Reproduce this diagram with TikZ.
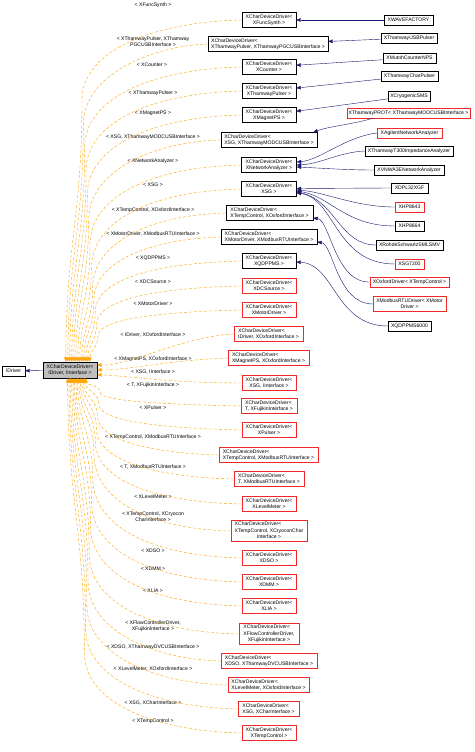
\documentclass[tikz,border=0pt]{standalone}
\usepackage{fontspec}
\setmainfont{Liberation Sans}
\usetikzlibrary{arrows.meta}
\definecolor{dorange}{RGB}{255,165,0}
\definecolor{dnavy}{RGB}{25,25,112}
\definecolor{dred}{RGB}{240,40,40}
\definecolor{dgray}{RGB}{191,191,191}
\newcommand\dxl[2]{\begin{tabular}{@{}c@{}}\multicolumn{1}{@{}l@{}}{#1}\\#2\end{tabular}}
\begin{document}
\begin{tikzpicture}[x=1pt,y=-1pt,
 box/.style={draw, line width=0.35pt, inner sep=1pt, font=\fontsize{5.1}{6.3}\selectfont, minimum height=15pt},
 bk/.style={box, draw=black},
 rd/.style={box, draw=dred},
 cb/.style={bk, minimum height=10pt},
 cr/.style={rd, minimum height=10pt},
 lbl/.style={inner sep=0pt, font=\fontsize{5.1}{6.3}\selectfont, align=center},
 inh/.style={draw=dnavy, line width=0.4pt, -{Triangle[length=4.5pt,width=3.5pt]}},
 tmp/.style={draw=dorange, line width=0.4pt, dash pattern=on 3pt off 2pt, -{Triangle[length=4.5pt,width=3.5pt]}},
]
\fill[white] (0,0) rectangle (474,752);
\useasboundingbox (0,0) rectangle (474,752);

% main and base
\node[bk, fill=dgray, minimum width=54pt, minimum height=16pt] (m) at (70,370) {\dxl{XCharDeviceDriver<}{IDriver, IInterface >}};
\node[bk, minimum width=23pt, minimum height=10pt] (idr) at (13.5,371) {IDriver};

% template instances
\node[bk, minimum width=54pt] (n1) at (269,20) {\dxl{XCharDeviceDriver<}{XFuncSynth >}};
\node[bk, minimum width=120pt] (n2) at (268,44) {\dxl{XCharDeviceDriver<}{XThamwayPulser, XThamwayPGCUSBInterface >}};
\node[bk, minimum width=54pt] (n3) at (269,67) {\dxl{XCharDeviceDriver<}{XCounter >}};
\node[bk, minimum width=54pt] (n4) at (269,91) {\dxl{XCharDeviceDriver<}{XThamwayPulser >}};
\node[bk, minimum width=54pt] (n5) at (269,115) {\dxl{XCharDeviceDriver<}{XMagnetPS >}};
\node[bk, minimum width=96pt] (n6) at (269,140) {\dxl{XCharDeviceDriver<}{XSG, XThamwayMODCUSBInterface >}};
\node[bk, minimum width=55pt] (n7) at (269,165) {\dxl{XCharDeviceDriver<}{XNetworkAnalyzer >}};
\node[bk, minimum width=55pt] (n8) at (269,189) {\dxl{XCharDeviceDriver<}{XSG >}};
\node[bk, minimum width=87pt] (n9) at (269.5,213) {\dxl{XCharDeviceDriver<}{XTempControl, XOxfordInterface >}};
\node[bk, minimum width=96pt] (n10) at (269,237) {\dxl{XCharDeviceDriver<}{XMotorDriver, XModbusRTUInterface >}};
\node[bk, minimum width=54pt] (n11) at (269,261) {\dxl{XCharDeviceDriver<}{XQDPPMS >}};
\node[rd, minimum width=54pt] (n12) at (269,286) {\dxl{XCharDeviceDriver<}{XDCSource >}};
\node[rd, minimum width=54pt] (n13) at (269,310) {\dxl{XCharDeviceDriver<}{XMotorDriver >}};
\node[rd, minimum width=69pt] (n14) at (268.5,334) {\dxl{XCharDeviceDriver<}{IDriver, XOxfordInterface >}};
\node[rd, minimum width=81pt] (n15) at (268.5,358) {\dxl{XCharDeviceDriver<}{XMagnetPS, XOxfordInterface >}};
\node[rd, minimum width=54pt] (n16) at (269,383) {\dxl{XCharDeviceDriver<}{XSG, IInterface >}};
\node[rd, minimum width=56pt] (n17) at (269,406) {\dxl{XCharDeviceDriver<}{T, XFujikinInterface >}};
\node[rd, minimum width=54pt] (n18) at (269,430) {\dxl{XCharDeviceDriver<}{XPulser >}};
\node[rd, minimum width=99pt] (n19) at (268.5,455) {\dxl{XCharDeviceDriver<}{XTempControl, XModbusRTUInterface >}};
\node[rd, minimum width=70pt] (n20) at (269,479) {\dxl{XCharDeviceDriver<}{T, XModbusRTUInterface >}};
\node[rd, minimum width=54pt] (n21) at (269,504) {\dxl{XCharDeviceDriver<}{XLevelMeter >}};
\node[rd, minimum width=76pt, minimum height=21pt] (n22) at (269,531) {\dxl{XCharDeviceDriver<}{XTempControl, XCryoconChar\\Interface >}};
\node[rd, minimum width=54pt] (n23) at (269,558) {\dxl{XCharDeviceDriver<}{XDSO >}};
\node[rd, minimum width=54pt] (n24) at (269,582) {\dxl{XCharDeviceDriver<}{XDMM >}};
\node[rd, minimum width=54pt] (n25) at (269,606) {\dxl{XCharDeviceDriver<}{XLIA >}};
\node[rd, minimum width=60pt, minimum height=20pt] (n26) at (269,634) {\dxl{XCharDeviceDriver<}{XFlowControllerDriver,\\XFujikinInterface >}};
\node[rd, minimum width=96pt] (n27) at (269,661) {\dxl{XCharDeviceDriver<}{XDSO, XThamwayDVCUSBInterface >}};
\node[rd, minimum width=81pt] (n28) at (268.5,685) {\dxl{XCharDeviceDriver<}{XLevelMeter, XOxfordInterface >}};
\node[rd, minimum width=61pt] (n29) at (268.5,709) {\dxl{XCharDeviceDriver<}{XSG, XCharInterface >}};
\node[rd, minimum width=54pt] (n30) at (269,733) {\dxl{XCharDeviceDriver<}{XTempControl >}};

% derived classes
\node[cb, minimum width=49pt] (r1) at (408.5,20) {XWAVEFACTORY};
\node[cb, minimum width=56pt] (r2) at (409,38) {XThamwayUSBPulser};
\node[cb, minimum width=53pt] (r3) at (409.5,58) {XMutohCounterNPS};
\node[cb, minimum width=57pt] (r4) at (409.5,76) {XThamwayCharPulser};
\node[cb, minimum width=42pt] (r5) at (409,96) {XCryogenicSMS};
\node[cr, minimum width=123pt] (r6) at (408.5,113) {XThamwayPROT< XThamwayMODCUSBInterface >};
\node[cr, minimum width=65pt] (r7) at (409.5,133) {XAgilentNetworkAnalyzer};
\node[cb, minimum width=88pt] (r8) at (409,151) {XThamwayT300ImpedanceAnalyzer};
\node[cb, minimum width=70pt] (r9) at (409,170) {XVNWA3ENetworkAnalyzer};
\node[cb, minimum width=37pt] (r10) at (409.5,188) {XDPL32XGF};
\node[cr, minimum width=29pt] (r11) at (409.5,207) {XHP8643};
\node[cb, minimum width=29pt] (r12) at (409.5,226) {XHP8664};
\node[cb, minimum width=67pt] (r13) at (409.5,245) {XRohdeSchwartzSMLSMV};
\node[cr, minimum width=29pt] (r14) at (409.5,264) {XSG7200};
\node[cr, minimum width=79pt] (r15) at (409.5,282) {XOxfordDriver< XTempControl >};
\node[cr, minimum width=73pt, minimum height=15pt, align=center] (r16) at (409.5,304) {XModbusRTUDriver< XMotor\\Driver >};
\node[cb, minimum width=43pt] (r17) at (409.5,326) {XQDPPMS6000};

% labels
\node[lbl] (l1) at (153,5) {< XFuncSynth >};
\node[lbl] (l2) at (153,42) {< XThamwayPulser, XThamway\\PGCUSBInterface >};
\node[lbl] (l3) at (152,65) {< XCounter >};
\node[lbl] (l4) at (153,93) {< XThamwayPulser >};
\node[lbl] (l5) at (153,113) {< XMagnetPS >};
\node[lbl] (l6) at (153,137) {< XSG, XThamwayMODCUSBInterface >};
\node[lbl] (l7) at (153,161) {< XNetworkAnalyzer >};
\node[lbl] (l8) at (153,185) {< XSG >};
\node[lbl] (l9) at (153,210) {< XTempControl, XOxfordInterface >};
\node[lbl] (l10) at (153,234) {< XMotorDriver, XModbusRTUInterface >};
\node[lbl] (l11) at (153,258) {< XQDPPMS >};
\node[lbl] (l12) at (153,282) {< XDCSource >};
\node[lbl] (l13) at (153,304) {< XMotorDriver >};
\node[lbl] (l14) at (153,335) {< IDriver, XOxfordInterface >};
\node[lbl] (l15) at (153,359) {< XMagnetPS, XOxfordInterface >};
\node[lbl] (l16) at (153,372) {< XSG, IInterface >};
\node[lbl] (l17) at (153,385) {< T, XFujikinInterface >};
\node[lbl] (l18) at (153,408) {< XPulser >};
\node[lbl] (l19) at (153,437) {< XTempControl, XModbusRTUInterface >};
\node[lbl] (l20) at (153,467) {< T, XModbusRTUInterface >};
\node[lbl] (l21) at (153,497) {< XLevelMeter >};
\node[lbl] (l22) at (153,517) {< XTempControl, XCryocon\\CharInterface >};
\node[lbl] (l23) at (153,551) {< XDSO >};
\node[lbl] (l24) at (153,569) {< XDMM >};
\node[lbl] (l25) at (153,591) {< XLIA >};
\node[lbl] (l26) at (153,626) {< XFlowControllerDriver,\\XFujikinInterface >};
\node[lbl] (l27) at (153,647) {< XDSO, XThamwayDVCUSBInterface >};
\node[lbl] (l28) at (153,669) {< XLevelMeter, XOxfordInterface >};
\node[lbl] (l29) at (153,703) {< XSG, XCharInterface >};
\node[lbl] (l30) at (153,721) {< XTempControl >};

% inheritance edges
\draw[inh] (m) -- (idr);
\draw[inh] (r1) -- (n1);
\draw[inh] (r2) -- (n2);
\draw[inh] (r3) -- (n3);
\draw[inh] (r4) -- (n4);
\draw[inh] (r5) -- (n5);
\draw[inh] ([xshift=26pt]r6.south west) .. controls (355,124) and (330,126) .. ([xshift=-4pt]n6.north east);
\draw[inh] (r7.west) .. controls (345,137) and (320,160) .. ([yshift=3pt]n7.east);
\draw[inh] (r8.west) .. controls (340,152) and (320,164) .. (n7.east);
\draw[inh] (r9.west) .. controls (345,170) and (320,168) .. ([yshift=-2pt]n7.east);
\draw[inh] (r10.west) -- ([yshift=0.5pt]n8.east);
\draw[inh] (r11.west) .. controls (355,207) and (325,192) .. ([yshift=-1pt]n8.east);
\draw[inh] (r12.west) .. controls (345,226) and (330,196) .. ([yshift=-2pt]n8.east);
\draw[inh] (r13.west) .. controls (340,245) and (335,200) .. ([yshift=-3pt]n8.east);
\draw[inh] (r14.west) .. controls (335,264) and (335,198) .. ([yshift=-4pt]n8.east);
\draw[inh] (r15.west) .. controls (335,283) and (330,220) .. ([yshift=-5pt]n9.east);
\draw[inh] (r16.west) .. controls (337,304) and (333,244) .. ([yshift=-5pt]n10.east);
\draw[inh] (r17.west) .. controls (335,326) and (335,264) .. ([yshift=-1pt]n11.east);

% template edges, upper
\foreach \ii/\yy in {1/20,2/44,3/67,4/91,5/115,6/140,7/165,8/189,9/213,10/237,11/261,12/286,13/310}{
 \pgfmathsetmacro\qxv{82+(\ii-1)*1.33}
 \pgfmathsetmacro\qdx{23+(\ii-1)*2}
 \pgfmathsetmacro\qxe{43+\qdx}
 \pgfmathsetmacro\qD{min(80,(362-\yy)/2)}
 \pgfmathsetmacro\qwy{\yy+\qD}
 \pgfmathsetmacro\qca{\yy+2}
 \pgfmathsetmacro\qcb{\yy+0.4*\qD}
 \pgfmathsetmacro\qcc{\qwy+0.45*(362-\qwy)}
 \pgfmathsetmacro\qcd{362-0.45*(362-\qwy)}
 \draw[tmp] (n\ii.west) .. controls (150,\qca) and (\qxv,\qcb) .. (\qxv,\qwy) .. controls (\qxv,\qcc) and (\qxe,\qcd) .. ([xshift=\qdx pt]m.north west);
}
\draw[tmp] (n14.west) .. controls (180,337) and (130,366) .. ([yshift=-3pt]m.north east);
\draw[tmp] (n15.west) .. controls (170,360) and (130,370) .. ([yshift=-8pt]m.north east);
\draw[tmp] (n16.west) .. controls (170,383) and (130,376) .. ([yshift=-13pt]m.north east);

% template edges, lower
\foreach \ii/\yy in {17/406,18/430,19/455,20/479,21/504,22/531,23/558,24/582,25/606,26/634,27/661,28/685,29/709,30/733}{
 \pgfmathsetmacro\qxv{100-(\ii-17)*1.2}
 \pgfmathsetmacro\qdx{43-(\ii-17)*1.4}
 \pgfmathsetmacro\qxe{43+\qdx}
 \pgfmathsetmacro\qD{min(80,(\yy-378)/2)}
 \pgfmathsetmacro\qwy{\yy-\qD}
 \pgfmathsetmacro\qca{\yy-2}
 \pgfmathsetmacro\qcb{\yy-0.4*\qD}
 \pgfmathsetmacro\qcc{\qwy-0.45*(\qwy-378)}
 \pgfmathsetmacro\qcd{378+0.45*(\qwy-378)}
 \draw[tmp] (n\ii.west) .. controls (150,\qca) and (\qxv,\qcb) .. (\qxv,\qwy) .. controls (\qxv,\qcc) and (\qxe,\qcd) .. ([xshift=\qdx pt]m.south west);
}
\end{tikzpicture}
\end{document}
